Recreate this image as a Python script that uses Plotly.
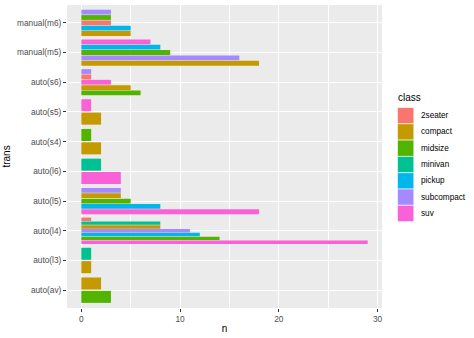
import plotly.graph_objects as go

trans_levels = ["auto(av)", "auto(l3)", "auto(l4)", "auto(l5)", "auto(l6)",
                "auto(s4)", "auto(s5)", "auto(s6)", "manual(m5)", "manual(m6)"]
classes = ["2seater", "compact", "midsize", "minivan", "pickup", "subcompact", "suv"]
colors = ["#F8766D", "#C49A00", "#53B400", "#00C094", "#00B6EB", "#A58AFF", "#FB61D7"]

# counts per trans (class -> n)
counts_av = {"compact": 2, "midsize": 3}
counts_l3 = {"compact": 1, "minivan": 1}
counts_l4 = {"2seater": 1, "compact": 8, "midsize": 14, "minivan": 8, "pickup": 12, "subcompact": 11, "suv": 29}
counts_l5 = {"compact": 4, "midsize": 5, "pickup": 8, "subcompact": 4, "suv": 18}
counts_l6 = {"minivan": 2, "suv": 4}
counts_s4 = {"compact": 2, "midsize": 1}
counts_s5 = {"compact": 2, "suv": 1}
counts_s6 = {"2seater": 1, "compact": 5, "midsize": 6, "subcompact": 1, "suv": 3}
counts_m5 = {"compact": 18, "midsize": 9, "pickup": 8, "subcompact": 16, "suv": 7}
counts_m6 = {"2seater": 3, "compact": 5, "midsize": 3, "pickup": 5, "subcompact": 3}

counts = [counts_av, counts_l3, counts_l4, counts_l5, counts_l6,
          counts_s4, counts_s5, counts_s6, counts_m5, counts_m6]

W, H = 474, 338
ML, MR, MT, MB = 67, 92, 5, 30
PW, PH = W - ML - MR, H - MT - MB

# dodge layout (like position_dodge2): rows ordered by n desc, then class name
DODGE = 0.9
PAD = 0.1
layout_info = {}
for ti, cdict in enumerate(counts):
    order = sorted(cdict.keys(), key=lambda c: (-cdict[c], c))
    k = len(order)
    slot = DODGE / k
    for i, c in enumerate(order):
        bw = slot * (1 - PAD)
        off = -DODGE / 2 + i * slot + (slot - bw) / 2
        layout_info[(ti, c)] = (off, bw)

fig = go.Figure()
for cls, col in zip(classes, colors):
    ys, xs, offs, ws = [], [], [], []
    for ti, cdict in enumerate(counts):
        if cls in cdict:
            off, bw = layout_info[(ti, cls)]
            ys.append(ti + 1)
            xs.append(cdict[cls])
            offs.append(off)
            ws.append(bw)
    fig.add_trace(go.Bar(
        x=xs, y=ys, orientation="h", name=cls,
        marker=dict(color=col, line=dict(width=0)),
        offset=offs, width=ws, base=0, showlegend=False,
    ))

# ggplot-style legend drawn in paper coordinates
def px_x(px):
    return (px - ML) / PW

def px_y(py):
    return (H - MB - py) / PH

shapes = []
annotations = [dict(text="class", x=px_x(396), y=px_y(97.5), xref="paper", yref="paper",
                    xanchor="left", yanchor="middle", showarrow=False,
                    font=dict(size=10, color="black"))]
key_top, key_h = 107.5, 16.3
for i, (cls, col) in enumerate(zip(classes, colors)):
    y0 = key_top + i * key_h
    shapes.append(dict(type="rect", xref="paper", yref="paper",
                       x0=px_x(397.5), x1=px_x(413.8), y0=px_y(y0), y1=px_y(y0 + key_h),
                       fillcolor=col, line=dict(color="white", width=0.6), layer="above"))
    annotations.append(dict(text=cls, x=px_x(418.5), y=px_y(y0 + key_h / 2),
                            xref="paper", yref="paper", xanchor="left", yanchor="middle",
                            showarrow=False, font=dict(size=8.2, color="black")))

fig.update_layout(
    width=W, height=H,
    margin=dict(l=ML, r=MR, t=MT, b=MB),
    paper_bgcolor="white",
    plot_bgcolor="#EBEBEB",
    barmode="overlay",
    font=dict(family="Liberation Sans, Arial, sans-serif", size=8, color="#4D4D4D"),
    showlegend=False,
    shapes=shapes,
    annotations=annotations,
)
fig.update_xaxes(
    range=[-1.45, 30.45],
    tickvals=[0, 10, 20, 30],
    showgrid=True, gridcolor="white", gridwidth=1.1,
    minor=dict(tickvals=[5, 15, 25], showgrid=True, gridcolor="white", gridwidth=0.5),
    zeroline=False,
    ticks="outside", ticklen=3, tickcolor="#333333", tickwidth=1,
    tickfont=dict(size=8.3, color="#4D4D4D"),
    title=dict(text="n", font=dict(size=10, color="black"), standoff=2),
    showline=False,
)
fig.update_yaxes(
    range=[0.4, 10.6],
    tickvals=list(range(1, len(trans_levels) + 1)),
    ticktext=trans_levels,
    showgrid=True, gridcolor="white", gridwidth=1.1,
    zeroline=False,
    ticks="outside", ticklen=3, tickcolor="#333333", tickwidth=1,
    tickfont=dict(size=8.3, color="#4D4D4D"),
    title=dict(text="trans", font=dict(size=10, color="black"), standoff=4),
    showline=False,
)

fig.write_html("out.html")
